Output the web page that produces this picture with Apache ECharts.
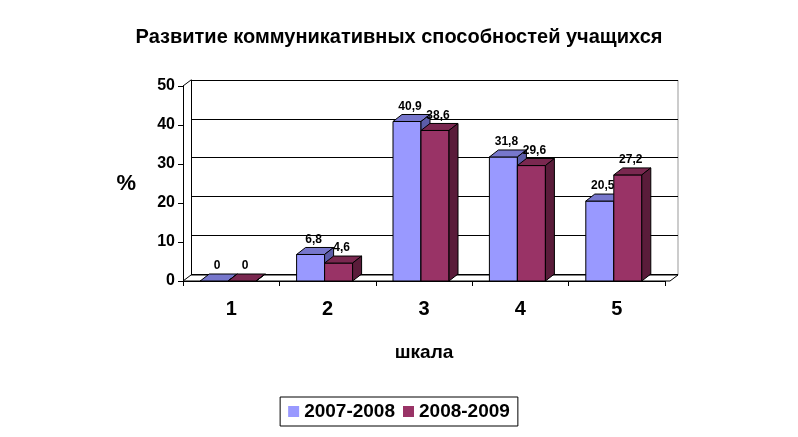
<!DOCTYPE html><html><head><meta charset="utf-8">
<script src="https://cdn.jsdelivr.net/npm/echarts@6/dist/echarts.min.js"></script>
<style>html,body{margin:0;background:#fff}#c{width:798px;height:437px}</style></head><body><div id="c"></div>
<script>
const categories=['1','2','3','4','5'];
const s1=[0,6.8,40.9,31.8,20.5];
const s2=[0,4.6,38.6,29.6,27.2];
const yTicks=[0,10,20,30,40,50];
const names=['2007-2008','2008-2009'];
const colors=[['#9999ff','#7777cc','#5c5ca8'],['#993366','#7a2850','#5a1c3a']];
const DX=9,DY=-7,BW=28;
function mk(idx,data){
  return {type:'custom',name:names[idx],xAxisIndex:1,yAxisIndex:1,color:colors[idx][0],
    data:data.map((v,i)=>[i,v]),
    renderItem(p,api){
      const c=api.coord([api.value(0),api.value(1)]);
      const b=api.coord([api.value(0),0]);
      const x0=c[0]-3+(idx===0?-BW:0), x1=x0+BW, yt=c[1], yb=b[1];
      const col=colors[idx];
      const v=api.value(1);
      return {type:'group',children:[
        {type:'rect',shape:{x:x0,y:yt,width:BW,height:yb-yt},style:{fill:col[0],stroke:'#000',lineWidth:1}},
        {type:'polygon',shape:{points:[[x0,yt],[x0+DX,yt+DY],[x1+DX,yt+DY],[x1,yt]]},style:{fill:col[1],stroke:'#000',lineWidth:1}},
        {type:'polygon',shape:{points:[[x1,yt],[x1+DX,yt+DY],[x1+DX,yb+DY],[x1,yb]]},style:{fill:col[2],stroke:'#000',lineWidth:1}},
        {type:'text',x:x0+BW/2+3,y:yt+DY-2,style:{text:String(v).replace('.',','),font:'bold 12px Liberation Sans',fill:'#000',align:'center',verticalAlign:'bottom'}}
      ]};
    }};
}
const chart=echarts.init(document.getElementById('c'));
chart.setOption({
  animation:false,
  title:{text:'Развитие коммуникативных способностей учащихся',left:'center',top:22,textStyle:{fontFamily:'Liberation Sans',fontWeight:'bold',fontSize:20,color:'#000'}},
  legend:{bottom:11,left:'center',itemWidth:11,itemHeight:11,itemGap:8,icon:'rect',borderColor:'#000',borderWidth:1,padding:[5,8],
    textStyle:{fontFamily:'Liberation Sans',fontWeight:'bold',fontSize:19,color:'#000'},data:names},
  grid:[{left:191,right:120,top:80,bottom:163},{left:183,right:133,top:86,bottom:156}],
  xAxis:[{gridIndex:0,type:'value',show:false,min:0,max:1},
    {gridIndex:1,type:'category',data:categories,axisTick:{show:true,interval:0,inside:false},axisLine:{lineStyle:{color:'#000'}},
     axisLabel:{fontFamily:'Liberation Sans',fontWeight:'bold',fontSize:20,color:'#000',margin:18},
     name:'шкала',nameLocation:'middle',nameGap:62,nameTextStyle:{fontFamily:'Liberation Sans',fontWeight:'bold',fontSize:19,color:'#000'}}],
  yAxis:[{gridIndex:0,type:'value',min:0,max:50,interval:10,axisLabel:{show:false},axisTick:{show:false},axisLine:{show:true,lineStyle:{color:'#000'}},splitLine:{lineStyle:{color:'#000'}}},
    {gridIndex:1,type:'value',min:0,max:50,interval:10,data:yTicks,axisLine:{show:true,lineStyle:{color:'#000'}},axisTick:{show:true,lineStyle:{color:'#000'}},splitLine:{show:false},
     axisLabel:{fontFamily:'Liberation Sans',fontWeight:'bold',fontSize:16,color:'#000'},
     name:'%',nameLocation:'middle',nameRotate:0,nameGap:47,nameTextStyle:{fontFamily:'Liberation Sans',fontWeight:'bold',fontSize:22,color:'#000'}}],
  graphic:[
    {type:'polygon',shape:{points:[[183,281],[191,275],[678,275],[670,281]]},style:{fill:'none',stroke:'#000'},z:0},
    {type:'line',shape:{x1:183,y1:86,x2:191,y2:80},style:{stroke:'#000'}},
    {type:'line',shape:{x1:678,y1:80,x2:678,y2:275},style:{stroke:'#999'}}
  ],
  series:[mk(0,s1),mk(1,s2)]
});
</script></body></html>
